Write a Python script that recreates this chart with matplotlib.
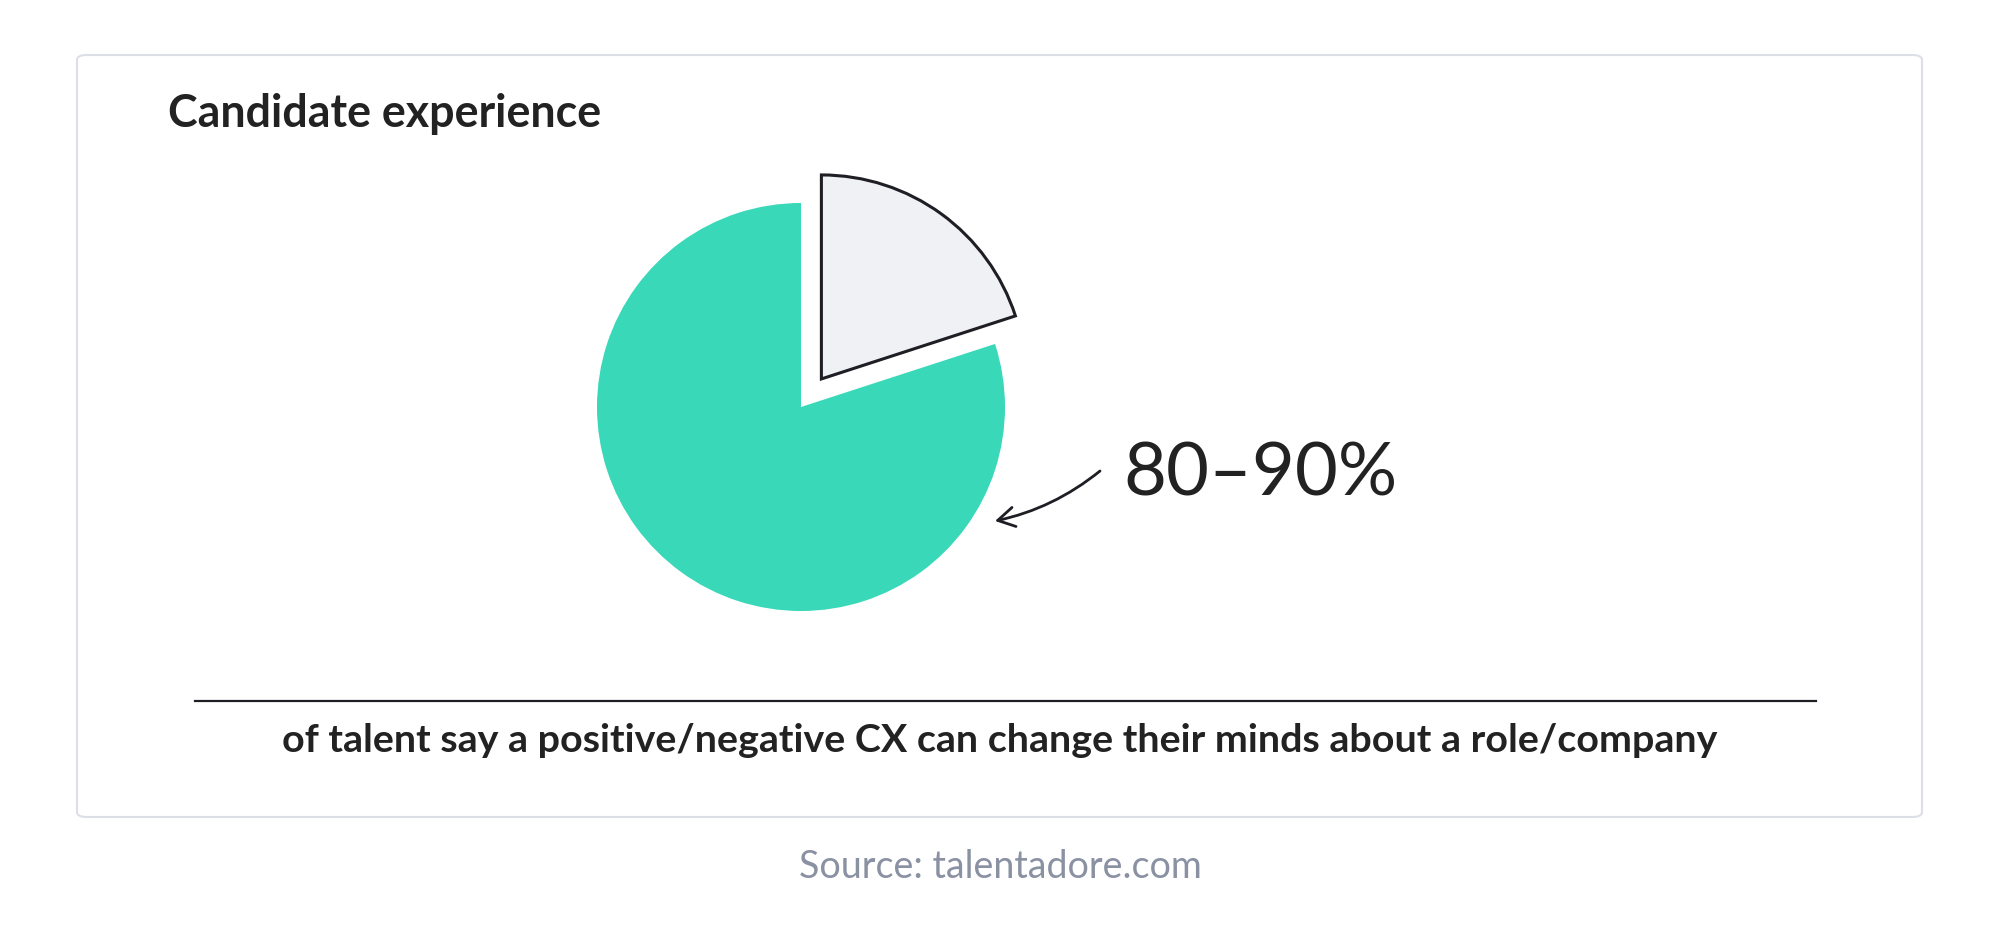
import matplotlib
matplotlib.use("Agg")
import matplotlib.pyplot as plt
from matplotlib.patches import FancyBboxPatch, FancyArrowPatch

# data
labels = ["Changes their mind", "Other"]
values = [80, 20]
colors = ["#38D8B8", "#EFF1F5"]
big_label = "80–90%"
title = "Candidate experience"
subtitle = "of talent say a positive/negative CX can change their minds about a role/company"
source = "Source: talentadore.com"

W, H = 2000, 945
plt.rcParams["font.family"] = ["Lato", "DejaVu Sans"]

fig = plt.figure(figsize=(W / 100, H / 100), dpi=100)
fig.patch.set_facecolor("white")


def px(x, y):
    # pixel coords (top-left origin) -> figure fraction
    return x / W, 1 - y / H


# card behind everything
card = FancyBboxPatch(px(77, 818), (1922 - 77) / W, (818 - 56) / H,
                      boxstyle="round,pad=0,rounding_size=0.005",
                      transform=fig.transFigure, facecolor="white",
                      edgecolor="#DCDFE5", linewidth=1.5, zorder=-5)
fig.patches.append(card)

# pie, centre (801, 408), radius 204 px
cx, cy, r, half = 801, 408, 204, 300
ax = fig.add_axes([(cx - half) / W, 1 - (cy + half) / H, 2 * half / W, 2 * half / H])
ax.set_zorder(2)
lim = half / r
wedges, _ = ax.pie(values, colors=colors, startangle=90, explode=[0, 0.17],
                   radius=1, wedgeprops=dict(linewidth=0))
wedges[1].set_edgecolor("#1E1E24")
wedges[1].set_linewidth(2.2)
wedges[1].set_joinstyle("miter")
ax.set_xlim(-lim, lim)
ax.set_ylim(-lim, lim)
ax.set_aspect("equal")
ax.axis("off")

fig.canvas.draw()
renderer = fig.canvas.get_renderer()


def fit_text(x, y, s, width, size, **kw):
    t = fig.text(*px(x, y), s, fontsize=size, zorder=5, **kw)
    w = t.get_window_extent(renderer).width
    t.set_fontsize(size * width / w)
    return t


fit_text(168, 127, title, 434, 28, fontweight="bold", color="#222222",
         ha="left", va="baseline")
fit_text(1123, 496, big_label, 274, 55, fontweight="normal", color="#222222",
         ha="left", va="baseline")
fit_text(1000, 752, subtitle, 1436, 24, fontweight="bold", color="#222222",
         ha="center", va="baseline")
fit_text(1000, 878, source, 404, 23, color="#8A91A2", ha="center", va="baseline")

# divider line
fig.add_artist(plt.Line2D([195 / W, 1816 / W], [1 - 702 / H] * 2,
                          color="#1E1E24", linewidth=1.6, zorder=5))

# arrow
arrow = FancyArrowPatch(px(1100, 472), px(995, 522), transform=fig.transFigure,
                        connectionstyle="arc3,rad=-0.12",
                        arrowstyle="->,head_length=12,head_width=7",
                        color="#1E1E24", linewidth=2, mutation_scale=1,
                        shrinkA=0, shrinkB=0, zorder=5)
fig.add_artist(arrow)

fig.savefig("out.png", dpi=100, facecolor="white")
